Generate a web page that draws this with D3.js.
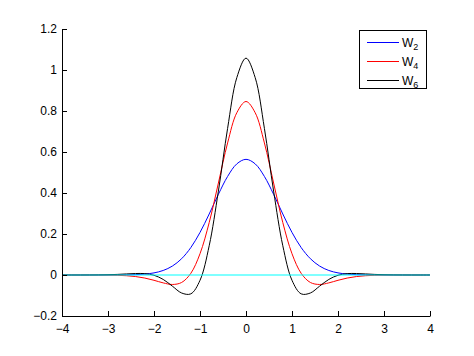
<!DOCTYPE html>
<html><head><meta charset="utf-8">
<script src="https://cdn.jsdelivr.net/npm/d3@7"></script>
<style>body{margin:0;background:#fff;}svg{display:block;font-family:"Liberation Sans",Arial,sans-serif;}</style>
</head><body><svg id="c" width="474" height="356"></svg>
<script>
// sample positions (x), values read/estimated from the reference curves
const xs = [-4,-3.8,-3.6,-3.4,-3.2,-3,-2.8,-2.6,-2.4,-2.2,-2,-1.8,-1.6,-1.4,-1.2,-1,-0.8,-0.6,-0.4,-0.2,0,
            0.2,0.4,0.6,0.8,1,1.2,1.4,1.6,1.8,2,2.2,2.4,2.6,2.8,3,3.2,3.4,3.6,3.8,4];
const W2 = [0,0,0.000001,0.000005,0.00002,0.00007,0.000222,0.000654,0.001778,0.004461,0.010334,0.022096,0.043614,0.07947,0.133672,0.207554,0.297493,0.393624,0.480773,0.542068,0.56419,
            0.542068,0.480773,0.393624,0.297493,0.207554,0.133672,0.07947,0.043614,0.022096,0.010334,0.004461,0.001778,0.000654,0.000222,0.00007,0.00002,0.000005,0.000001,0,0];
const W4 = [0,0,-0.000015,-0.000054,-0.000176,-0.000522,-0.001408,-0.00344,-0.007574,-0.0149,-0.025835,-0.038447,-0.046231,-0.036556,0.00802,0.103777,0.255844,0.448731,0.644236,0.791419,0.84628,
            0.791419,0.644236,0.448731,0.255844,0.103777,0.00802,-0.036556,-0.046231,-0.038447,-0.025835,-0.0149,-0.007574,-0.00344,-0.001408,-0.000522,-0.000176,-0.000054,-0.000015,0,0];
const W6 = [0.000006,0.000025,0.00007,0.000214,0.000577,0.001384,0.002888,0.005117,0.007225,0.006637,-0.001292,-0.02157,-0.054439,-0.087751,-0.091993,-0.025944,0.142737,0.40929,0.715294,0.962604,1.05786,
            0.962604,0.715294,0.40929,0.142737,-0.025944,-0.091993,-0.087751,-0.054439,-0.02157,-0.001292,0.006637,0.007225,0.005117,0.002888,0.001384,0.000577,0.000214,0.00007,0.000025,0.000006];
const zeroLine = [0,0];
const zeroX = [-4,4];
const xTicks = [-4,-3,-2,-1,0,1,2,3,4];
const yTicks = [-0.2,0,0.2,0.4,0.6,0.8,1,1.2];
const seriesNames = ["2","4","6"];
const seriesColors = ["#0000ff","#ff0000","#000000"];

const svg = d3.select("#c");
const x = d3.scaleLinear().domain([-4,4]).range([62,430]);
const y = d3.scaleLinear().domain([-0.2,1.2]).range([316,29]);

const line = d3.line().x(d=>x(d[0])).y(d=>y(d[1])).curve(d3.curveCatmullRom.alpha(0.5));

[W2,W4,W6].forEach((s,i)=>{
  svg.append("path").datum(xs.map((v,j)=>[v,s[j]]))
    .attr("d", line).attr("fill","none")
    .attr("stroke", seriesColors[i]).attr("stroke-width",1);
});

// zero line (on top)
svg.append("path").datum(zeroX.map((v,i)=>[v,zeroLine[i]]))
  .attr("d", d3.line().x(d=>x(d[0])).y(d=>y(d[1])))
  .attr("fill","none").attr("stroke","#00ffff").attr("stroke-width",1);

// axes
const xa = svg.append("g").attr("transform","translate(0,316)")
  .call(d3.axisBottom(x).tickValues(xTicks).tickSizeInner(-5).tickSizeOuter(0).tickPadding(8).tickFormat(d=>String(d).replace("-","\u2212")));
const ya = svg.append("g").attr("transform","translate(62,0)")
  .call(d3.axisLeft(y).tickValues(yTicks).tickSizeInner(-5).tickSizeOuter(0).tickPadding(5).tickFormat(d=>String(+d.toFixed(1)).replace("-","\u2212")));
[xa,ya].forEach(a=>{
  a.selectAll("text").attr("font-size",12).attr("fill","#000").style("font-family","'Liberation Sans',Arial,sans-serif");
  a.select(".domain").attr("stroke","#000");
  a.selectAll(".tick line").attr("stroke","#000");
});

// legend
const lg = svg.append("g");
lg.append("rect").attr("x",359.5).attr("y",30.5).attr("width",67).attr("height",58)
  .attr("fill","#fff").attr("stroke","#000").attr("stroke-width",1);
const rowY = [42.5,61.5,80.5];
seriesNames.forEach((n,i)=>{
  lg.append("line").attr("x1",367).attr("x2",399).attr("y1",rowY[i]).attr("y2",rowY[i])
    .attr("stroke",seriesColors[i]).attr("stroke-width",1);
  const t = lg.append("text").attr("x",402).attr("y",rowY[i]+4).attr("font-size",12).attr("fill","#000");
  t.append("tspan").text("W");
  t.append("tspan").attr("font-size",9).attr("dy",3).text(n);
});
</script></body></html>
